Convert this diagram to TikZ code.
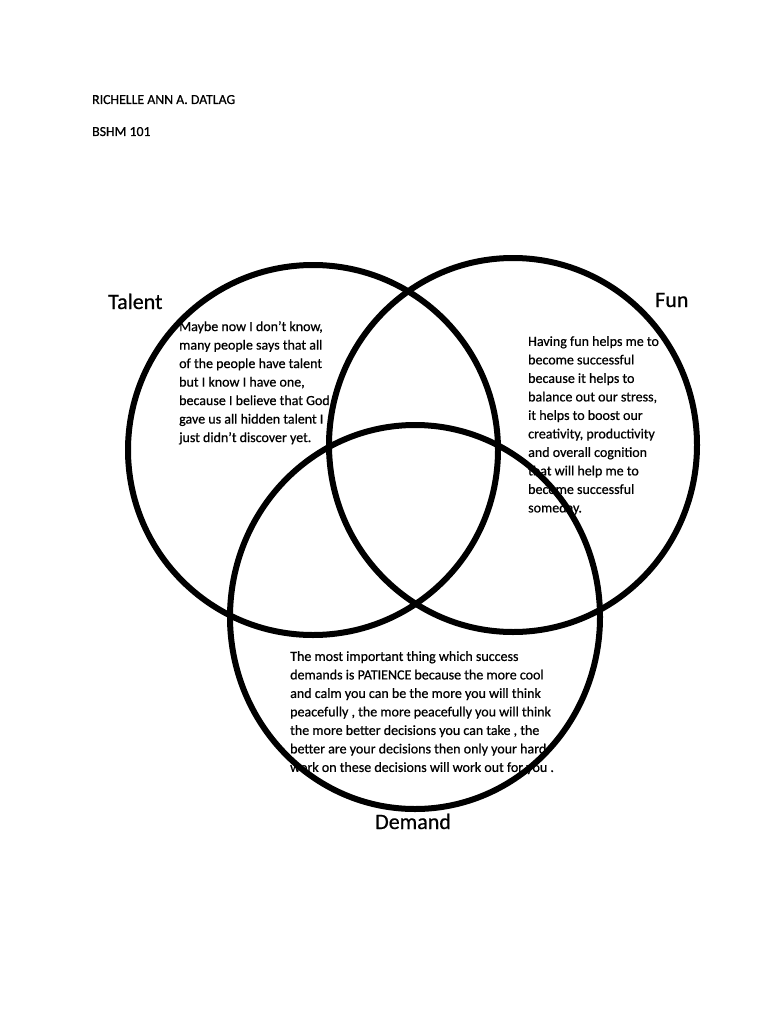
\documentclass[tikz,border=0pt]{standalone}
\usepackage{fontspec}
\setmainfont{Carlito}[FakeBold=0.6]
\newfontfamily\dark{Carlito}[FakeBold=0.6]
\begin{document}
\begin{tikzpicture}[x=1pt,y=-1pt,
  ring/.style={draw=black,line width=6pt},
  body/.style={anchor=north west,inner sep=0pt,align=left,font=\dark\fontsize{14}{18.5}\selectfont},
  head/.style={anchor=base west,inner sep=0pt,font=\dark\fontsize{13.8}{15}\selectfont},
  label/.style={anchor=base west,inner sep=0pt,font=\dark\fontsize{22}{24}\selectfont}]
\useasboundingbox[fill=white] (0,0) rectangle (768,1024);
\node[head] (name) at (92,104) {RICHELLE ANN A. DATLAG};
\node[head] (course) at (92,136) {BSHM 101};
\draw[ring] (313,450) circle (185);
\draw[ring] (513,445) ellipse (184 and 187);
\draw[ring] (415,617) ellipse (185 and 192);
\node[label] (talent) at (108,309) {Talent};
\node[label] (fun) at (655,307) {Fun};
\node[label] (demand) at (375,829) {Demand};
\node[body] (ttext) at (179,321) {Maybe now I don’t know,\\many people says that all\\of the people have talent\\but I know I have one,\\because I believe that God\\gave us all hidden talent I\\just didn’t discover yet.};
\node[body] (ftext) at (528,336) {Having fun helps me to\\become successful\\because it helps to\\balance out our stress,\\it helps to boost our\\creativity, productivity\\and overall cognition\\that will help me to\\become successful\\someday.};
\node[body] (dtext) at (290,651) {The most important thing which success\\demands is PATIENCE because the more cool\\and calm you can be the more you will think\\peacefully , the more peacefully you will think\\the more better decisions you can take , the\\better are your decisions then only your hard\\work on these decisions will work out for you .};
\end{tikzpicture}
\end{document}
